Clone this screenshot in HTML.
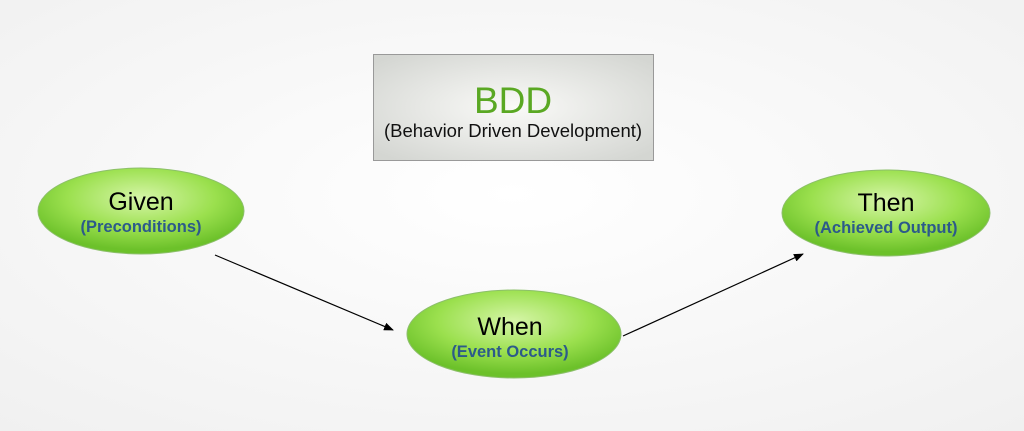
<!DOCTYPE html>
<html><head><style>body{margin:0;background:#fff}</style></head><body>
<svg width="1024" height="431" xmlns="http://www.w3.org/2000/svg" style="display:block">
<defs>
<radialGradient id="bg" cx="50%" cy="45%" r="75%"><stop offset="0" stop-color="#ffffff"/><stop offset="1" stop-color="#f0f0f0"/></radialGradient>
<radialGradient id="g" cx="50%" cy="35%" r="60%"><stop offset="0" stop-color="#d6f5a8"/><stop offset="0.6" stop-color="#9be04e"/><stop offset="1" stop-color="#6cc12a"/></radialGradient>
<radialGradient id="b" cx="50%" cy="50%" r="65%"><stop offset="0" stop-color="#fafaf8"/><stop offset="1" stop-color="#d4d6d2"/></radialGradient>
<marker id="a" markerWidth="10" markerHeight="8" refX="9" refY="4" orient="auto" markerUnits="userSpaceOnUse"><path d="M0,0 L10,4 L0,8 z" fill="#000"/></marker>
</defs>
<rect width="1024" height="431" fill="url(#bg)"/>
<rect x="373.5" y="54.5" width="280" height="106" fill="url(#b)" stroke="#999" stroke-width="1"/>
<text x="513" y="113" font-family="Liberation Sans, sans-serif" font-size="37" fill="#5aa823" text-anchor="middle">BDD</text>
<text x="513" y="137" font-family="Liberation Sans, sans-serif" font-size="18.5" fill="#111" text-anchor="middle">(Behavior Driven Development)</text>
<g font-family="Liberation Sans, sans-serif" text-anchor="middle">
<ellipse cx="141" cy="211" rx="103" ry="43" fill="url(#g)" stroke="#8cbf6a"/>
<text x="141" y="210" font-size="25" fill="#000">Given</text>
<text x="141" y="232" font-size="16.5" font-weight="bold" fill="#2c5a8a">(Preconditions)</text>
<ellipse cx="514" cy="334" rx="107" ry="44" fill="url(#g)" stroke="#8cbf6a"/>
<text x="510" y="335" font-size="25" fill="#000">When</text>
<text x="510" y="357" font-size="16.5" font-weight="bold" fill="#2c5a8a">(Event Occurs)</text>
<ellipse cx="886" cy="213" rx="104" ry="43" fill="url(#g)" stroke="#8cbf6a"/>
<text x="886" y="211" font-size="25" fill="#000">Then</text>
<text x="886" y="233" font-size="16.5" font-weight="bold" fill="#2c5a8a">(Achieved Output)</text>
</g>
<line x1="215" y1="255" x2="393" y2="330" stroke="#000" stroke-width="1.2" marker-end="url(#a)"/>
<line x1="623" y1="336" x2="803" y2="254" stroke="#000" stroke-width="1.2" marker-end="url(#a)"/>
</svg>
</body></html>
